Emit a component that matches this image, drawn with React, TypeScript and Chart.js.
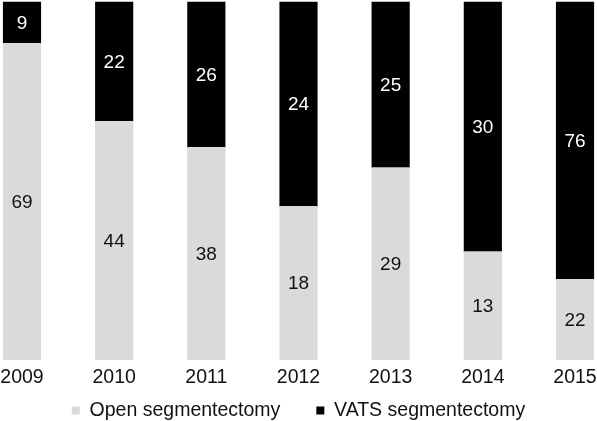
import React, { useEffect, useRef } from "react";
import { Chart, registerables } from "chart.js";

Chart.register(...registerables);

const years = ["2009", "2010", "2011", "2012", "2013", "2014", "2015"];
const openCounts = [69, 44, 38, 18, 29, 13, 22];
const vatsCounts = [9, 22, 26, 24, 25, 30, 76];
const seriesLabels = ["Open segmentectomy", "VATS segmentectomy"];
const seriesColors = ["#dadada", "#030000"];
const labelColors = ["#111111", "#ffffff"];

const FONT = "'Liberation Sans', Arial, Helvetica, sans-serif";

export default function App() {
  const ref = useRef<HTMLCanvasElement | null>(null);

  useEffect(() => {
    if (!ref.current) return;
    const totals = years.map((_, i) => openCounts[i] + vatsCounts[i]);
    const openPct = openCounts.map((v, i) => (v / totals[i]) * 100);
    const vatsPct = vatsCounts.map((v, i) => (v / totals[i]) * 100);
    const counts = [openCounts, vatsCounts];

    const valueLabels = {
      id: "valueLabels",
      afterDatasetsDraw(chart: any) {
        const ctx = chart.ctx;
        ctx.save();
        ctx.font = `19px ${FONT}`;
        ctx.textAlign = "center";
        ctx.textBaseline = "middle";
        chart.data.datasets.forEach((_: any, di: number) => {
          const meta = chart.getDatasetMeta(di);
          meta.data.forEach((bar: any, i: number) => {
            const p = bar.getProps(["x", "y", "base"], true);
            ctx.fillStyle = labelColors[di];
            ctx.fillText(String(counts[di][i]), p.x, (p.y + p.base) / 2 + 1);
          });
        });
        ctx.restore();
      },
    };

    const chart = new Chart(ref.current, {
      type: "bar",
      data: {
        labels: years,
        datasets: [
          {
            label: seriesLabels[0],
            data: openPct,
            backgroundColor: seriesColors[0],
            borderWidth: 0,
            clip: false,
          },
          {
            label: seriesLabels[1],
            data: vatsPct,
            backgroundColor: seriesColors[1],
            borderWidth: 0,
            clip: false,
          },
        ],
      },
      options: {
        animation: false,
        responsive: true,
        maintainAspectRatio: false,
        barThickness: 37.5,
        layout: { padding: { top: 2, left: 0, right: 0, bottom: -9.2 } },
        scales: {
          x: {
            stacked: true,
            offset: false,
            grid: { display: false, drawTicks: false },
            border: { display: false },
            ticks: {
              color: "#111111",
              font: { family: FONT, size: 19.5 },
              padding: 6.3,
              maxRotation: 0,
              autoSkip: false,
            },
            afterFit: (s: any) => {
              s.paddingLeft = 22;
              s.paddingRight = 22;
            },
          },
          y: {
            stacked: true,
            min: 0,
            max: 100,
            display: false,
          },
        },
        plugins: {
          legend: {
            position: "bottom",
            labels: {
              boxWidth: 8,
              boxHeight: 8,
              padding: 5,
              color: "#111111",
              font: { family: FONT, size: 19.5 },
              generateLabels: (c: any) => {
                const items = Chart.defaults.plugins.legend.labels.generateLabels(c);
                items.forEach((it: any, idx: number) => {
                  if (idx < items.length - 1) it.text = it.text + "     \u2009";
                });
                return items;
              },
            },
          },
          tooltip: { enabled: false },
        },
      } as any,
      plugins: [valueLabels],
    });
    return () => chart.destroy();
  }, []);

  return (
    <div style={{ position: "absolute", left: 0, top: 0, width: 597, height: 421, background: "#fff" }}>
      <canvas ref={ref} />
    </div>
  );
}
